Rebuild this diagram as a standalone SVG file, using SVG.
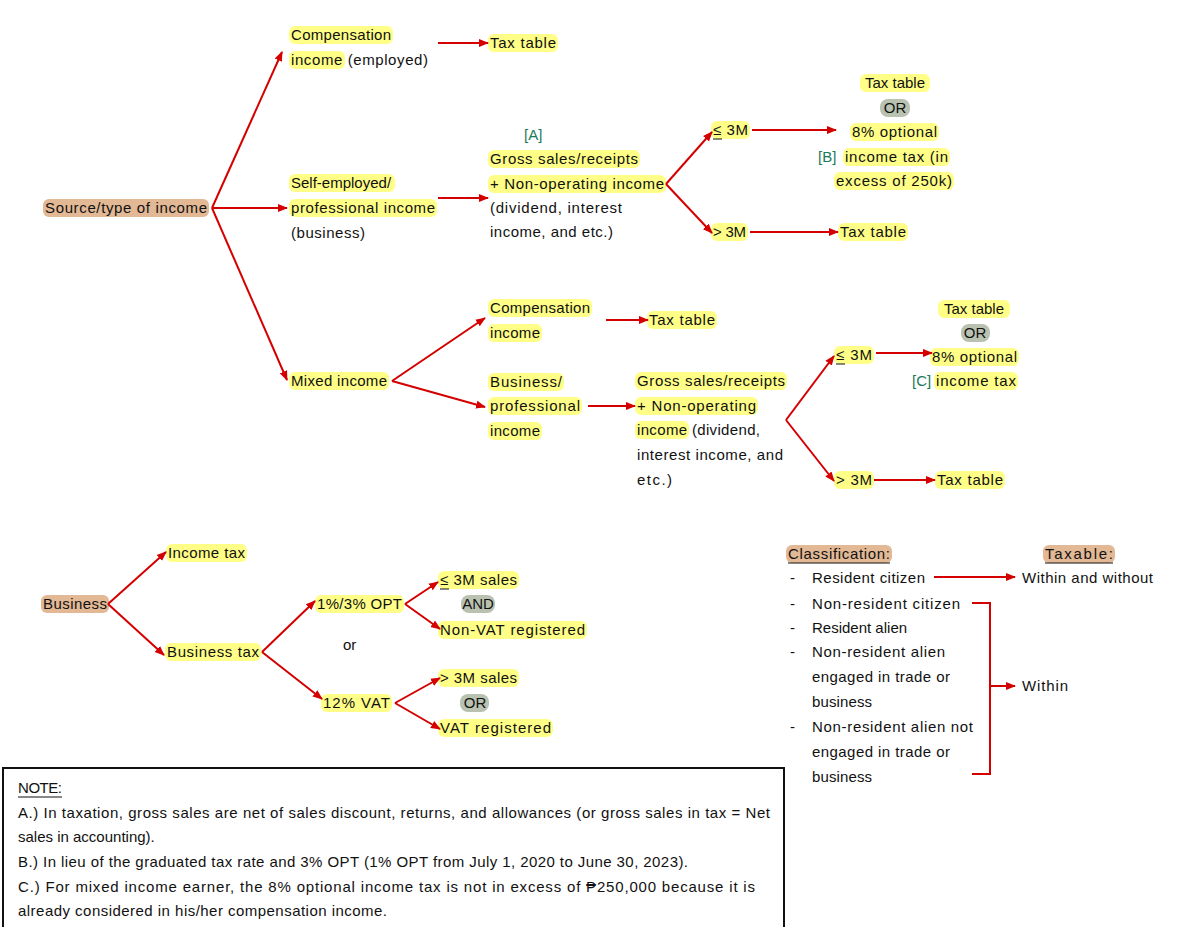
<svg xmlns="http://www.w3.org/2000/svg" width="1200" height="927" viewBox="0 0 1200 927">
<style>
text{font-family:"Liberation Sans",Arial,sans-serif;font-size:15px;fill:#111}
.g{fill:#1a7a5a}
.y{fill:#ffff88}
.t{fill:#e2b895}
.o{fill:#b9c2b0}
.c line,.c path{stroke:#d40000;stroke-width:2;fill:none}
.a{marker-end:url(#ah)}
</style>
<defs>
<marker id="ah" viewBox="0 0 10 10" refX="9" refY="5" markerWidth="5" markerHeight="5" orient="auto"><path d="M0,1 L10,5 L0,9 z" fill="#d40000"/></marker>
</defs>
<rect width="1200" height="927" fill="#fff"/>

<g id="hl">
<rect class="t" x="43" y="199" width="166" height="18" rx="6"/>
<rect class="y" x="289" y="26" width="104" height="18" rx="6"/>
<rect class="y" x="289" y="51" width="56" height="18" rx="6"/>
<rect class="y" x="488" y="34" width="70" height="18" rx="6"/>
<rect class="y" x="289" y="174" width="106" height="18" rx="6"/>
<rect class="y" x="289" y="199" width="148" height="18" rx="6"/>
<rect class="y" x="488" y="150" width="152" height="18" rx="6"/>
<rect class="y" x="488" y="175" width="178" height="18" rx="6"/>
<rect class="y" x="711" y="121" width="39" height="18" rx="6"/>
<rect class="y" x="860" y="74" width="70" height="18" rx="6"/>
<rect class="o" x="880" y="99" width="30" height="18" rx="8"/>
<rect class="y" x="850" y="123" width="89" height="18" rx="6"/>
<rect class="y" x="843" y="148" width="107" height="18" rx="6"/>
<rect class="y" x="834" y="172" width="120" height="18" rx="6"/>
<rect class="y" x="711" y="223" width="37" height="18" rx="6"/>
<rect class="y" x="838" y="223" width="70" height="18" rx="6"/>
<rect class="y" x="289" y="372" width="100" height="18" rx="6"/>
<rect class="y" x="488" y="299" width="104" height="18" rx="6"/>
<rect class="y" x="488" y="324" width="54" height="18" rx="6"/>
<rect class="y" x="647" y="311" width="70" height="18" rx="6"/>
<rect class="y" x="488" y="373" width="76" height="18" rx="6"/>
<rect class="y" x="488" y="397" width="94" height="18" rx="6"/>
<rect class="y" x="488" y="422" width="54" height="18" rx="6"/>
<rect class="y" x="635" y="372" width="152" height="18" rx="6"/>
<rect class="y" x="635" y="397" width="123" height="18" rx="6"/>
<rect class="y" x="635" y="421" width="54" height="18" rx="6"/>
<rect class="y" x="834" y="346" width="40" height="18" rx="6"/>
<rect class="y" x="938" y="300" width="72" height="18" rx="6"/>
<rect class="o" x="961" y="324" width="29" height="18" rx="8"/>
<rect class="y" x="930" y="348" width="89" height="18" rx="6"/>
<rect class="y" x="934" y="372" width="84" height="18" rx="6"/>
<rect class="y" x="834" y="471" width="40" height="18" rx="6"/>
<rect class="y" x="935" y="471" width="70" height="18" rx="6"/>
<rect class="t" x="41" y="595" width="68" height="18" rx="6"/>
<rect class="y" x="166" y="544" width="81" height="18" rx="6"/>
<rect class="y" x="165" y="643" width="96" height="18" rx="6"/>
<rect class="y" x="315" y="595" width="89" height="18" rx="6"/>
<rect class="y" x="321" y="694" width="71" height="18" rx="6"/>
<rect class="y" x="438" y="571" width="81" height="18" rx="6"/>
<rect class="o" x="461" y="595" width="34" height="18" rx="8"/>
<rect class="y" x="438" y="621" width="149" height="18" rx="6"/>
<rect class="y" x="438" y="669" width="81" height="18" rx="6"/>
<rect class="o" x="460" y="694" width="29" height="18" rx="8"/>
<rect class="y" x="438" y="719" width="115" height="18" rx="6"/>
<rect class="t" x="786" y="545" width="106" height="18" rx="6"/>
<rect class="t" x="1043" y="545" width="72" height="18" rx="6"/>
</g>

<g id="connectors" class="c">
<line class="a" x1="212" y1="208" x2="282" y2="52"/>
<line class="a" x1="212" y1="208" x2="287" y2="208"/>
<line class="a" x1="212" y1="208" x2="287" y2="380"/>
<line class="a" x1="438" y1="43" x2="488" y2="43"/>
<line class="a" x1="438" y1="198" x2="488" y2="198"/>
<line class="a" x1="666" y1="184" x2="712" y2="132"/>
<line class="a" x1="666" y1="184" x2="712" y2="233"/>
<line class="a" x1="752" y1="130" x2="836" y2="130"/>
<line class="a" x1="750" y1="232" x2="838" y2="232"/>
<line class="a" x1="392" y1="381" x2="485" y2="318"/>
<line class="a" x1="392" y1="381" x2="485" y2="407"/>
<line class="a" x1="606" y1="320" x2="648" y2="320"/>
<line class="a" x1="588" y1="406" x2="635" y2="406"/>
<line class="a" x1="786" y1="420" x2="834" y2="356"/>
<line class="a" x1="786" y1="420" x2="834" y2="481"/>
<line class="a" x1="876" y1="353" x2="932" y2="353"/>
<line class="a" x1="874" y1="480" x2="935" y2="480"/>
<line class="a" x1="108" y1="604" x2="166" y2="552"/>
<line class="a" x1="108" y1="604" x2="164" y2="655"/>
<line class="a" x1="262" y1="652" x2="315" y2="601"/>
<line class="a" x1="262" y1="652" x2="322" y2="699"/>
<line class="a" x1="405" y1="604" x2="438" y2="582"/>
<line class="a" x1="405" y1="604" x2="440" y2="629"/>
<line class="a" x1="395" y1="703" x2="440" y2="678"/>
<line class="a" x1="395" y1="703" x2="440" y2="729"/>
<line class="a" x1="934" y1="577" x2="1015" y2="577"/>
<path d="M972,603 H990 V774 H972"/>
<line class="a" x1="990" y1="686" x2="1015" y2="686"/>
</g>

<g id="source"><text x="45" y="213" textLength="162">Source/type of income</text></g>
<g id="comp-emp">
<text x="291" y="40" textLength="100">Compensation</text>
<text x="291" y="65" textLength="137">income (employed)</text>
</g>
<g id="taxtable1"><text x="490" y="48" textLength="66">Tax table</text></g>
<g id="selfemp">
<text x="291" y="188">Self-employed/</text>
<text x="291" y="213" textLength="144">professional income</text>
<text x="291" y="238" textLength="74">(business)</text>
</g>
<g id="gross1">
<text class="g" x="524" y="140">[A]</text>
<text x="490" y="164" textLength="148">Gross sales/receipts</text>
<text x="490" y="189" textLength="174">+ Non-operating income</text>
<text x="490" y="213" textLength="132">(dividend, interest</text>
<text x="490" y="237" textLength="123">income, and etc.)</text>
</g>
<g id="le3m1"><text x="713" y="135" textLength="35">≤ 3M</text><line x1="713" y1="139" x2="722" y2="139" stroke="#111"/></g>
<g id="opt1">
<text x="895" y="88" text-anchor="middle">Tax table</text>
<text x="895" y="113" text-anchor="middle">OR</text>
<text x="852" y="137" textLength="85">8% optional</text>
<text class="g" x="818" y="162">[B]</text>
<text x="845" y="162" textLength="103">income tax (in</text>
<text x="836" y="186" textLength="116">excess of 250k)</text>
</g>
<g id="gt3m1"><text x="713" y="237" textLength="33">&gt; 3M</text></g>
<g id="taxtable2"><text x="840" y="237" textLength="66">Tax table</text></g>
<g id="mixed"><text x="291" y="386" textLength="96">Mixed income</text></g>
<g id="comp2">
<text x="490" y="313" textLength="100">Compensation</text>
<text x="490" y="338" textLength="50">income</text>
</g>
<g id="taxtable3"><text x="649" y="325" textLength="66">Tax table</text></g>
<g id="busprof">
<text x="490" y="387" textLength="72">Business/</text>
<text x="490" y="411" textLength="90">professional</text>
<text x="490" y="436" textLength="50">income</text>
</g>
<g id="gross2">
<text x="637" y="386" textLength="148">Gross sales/receipts</text>
<text x="637" y="411" textLength="119">+ Non-operating</text>
<text x="637" y="435" textLength="123">income (dividend,</text>
<text x="637" y="460" textLength="146">interest income, and</text>
<text x="637" y="485" textLength="35">etc.)</text>
</g>
<g id="le3m2"><text x="836" y="360" textLength="36">≤ 3M</text><line x1="836" y1="364" x2="845" y2="364" stroke="#111"/></g>
<g id="opt2">
<text x="974" y="314" text-anchor="middle">Tax table</text>
<text x="975" y="338" text-anchor="middle">OR</text>
<text x="932" y="362" textLength="85">8% optional</text>
<text class="g" x="912" y="386">[C]</text>
<text x="936" y="386" textLength="80">income tax</text>
</g>
<g id="gt3m2"><text x="836" y="485" textLength="36">&gt; 3M</text></g>
<g id="taxtable4"><text x="937" y="485" textLength="66">Tax table</text></g>

<g id="business"><text x="43" y="609" textLength="64">Business</text></g>
<g id="incometax"><text x="168" y="558" textLength="77">Income tax</text></g>
<g id="bustax"><text x="167" y="657" textLength="92">Business tax</text></g>
<g id="opt"><text x="317" y="609" textLength="85">1%/3% OPT</text></g>
<g id="or"><text x="343" y="650">or</text></g>
<g id="vat"><text x="323" y="708" textLength="67">12% VAT</text></g>
<g id="nonvat">
<text x="440" y="585" textLength="77">≤ 3M sales</text><line x1="440" y1="589" x2="449" y2="589" stroke="#111"/>
<text x="478" y="609" text-anchor="middle">AND</text>
<text x="440" y="635" textLength="145">Non-VAT registered</text>
</g>
<g id="vatreg">
<text x="440" y="683" textLength="77">&gt; 3M sales</text>
<text x="475" y="708" text-anchor="middle">OR</text>
<text x="440" y="733" textLength="111">VAT registered</text>
</g>

<g id="note">
<rect x="3" y="768" width="781" height="170" fill="none" stroke="#111" stroke-width="2"/>
<text x="18" y="793" textLength="44">NOTE:</text><line x1="18" y1="797" x2="62" y2="797" stroke="#111"/>
<text x="18" y="818" textLength="752">A.) In taxation, gross sales are net of sales discount, returns, and allowances (or gross sales in tax = Net</text>
<text x="18" y="842">sales in accounting).</text>
<text x="18" y="867" textLength="670">B.) In lieu of the graduated tax rate and 3% OPT (1% OPT from July 1, 2020 to June 30, 2023).</text>
<text x="18" y="892" textLength="737">C.) For mixed income earner, the 8% optional income tax is not in excess of ₱250,000 because it is</text>
<text x="18" y="916" textLength="369">already considered in his/her compensation income.</text>
</g>

<g id="classification">
<text x="788" y="559" textLength="102">Classification:</text><line x1="788" y1="563" x2="890" y2="563" stroke="#111"/>
<text x="790" y="583">-</text><text x="812" y="583" textLength="113">Resident citizen</text>
<text x="790" y="609">-</text><text x="812" y="609" textLength="148">Non-resident citizen</text>
<text x="790" y="633">-</text><text x="812" y="633">Resident alien</text>
<text x="790" y="657">-</text><text x="812" y="657" textLength="133">Non-resident alien</text>
<text x="812" y="682" textLength="138">engaged in trade or</text>
<text x="812" y="707" textLength="60">business</text>
<text x="790" y="732">-</text><text x="812" y="732" textLength="161">Non-resident alien not</text>
<text x="812" y="757" textLength="138">engaged in trade or</text>
<text x="812" y="782" textLength="60">business</text>
</g>
<g id="taxable">
<text x="1045" y="559" textLength="68">Taxable:</text><line x1="1045" y1="563" x2="1113" y2="563" stroke="#111"/>
<text x="1022" y="583" textLength="131">Within and without</text>
<text x="1022" y="691" textLength="46">Within</text>
</g>
</svg>
